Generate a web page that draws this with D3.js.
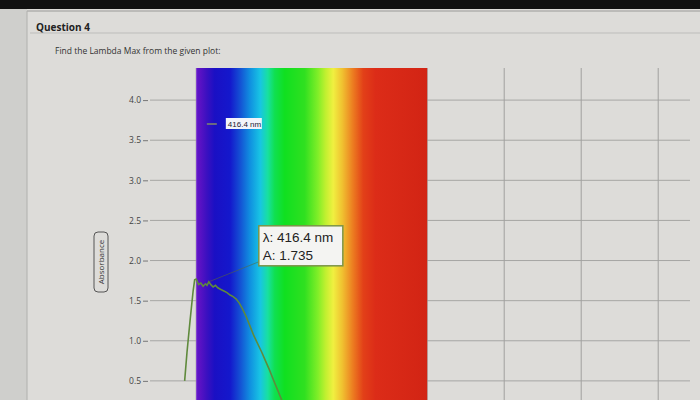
<!DOCTYPE html>
<html>
<head>
<meta charset="utf-8">
<script src="https://cdn.jsdelivr.net/npm/d3@7"></script>
<style>
  body { margin: 0; background: #dddcd9; }
  svg { display: block; }
</style>
</head>
<body>
<svg id="chart" width="700" height="400"></svg>
<script>
// absorbance spectrum
var wavelengths = [385, 388, 392, 396, 398, 400, 403, 406, 409, 412, 414, 416.4, 419, 422, 425, 428, 432, 436, 440, 444, 448, 452, 456, 460, 465, 470, 475, 480, 485, 490, 495, 500, 506, 512];
var absorbance  = [0.50, 0.85, 1.25, 1.62, 1.76, 1.77, 1.70, 1.72, 1.68, 1.71, 1.69, 1.735, 1.70, 1.67, 1.69, 1.66, 1.64, 1.62, 1.60, 1.57, 1.55, 1.52, 1.47, 1.40, 1.30, 1.18, 1.06, 0.96, 0.86, 0.75, 0.64, 0.52, 0.38, 0.24];
var yTicks = [0.5, 1.0, 1.5, 2.0, 2.5, 3.0, 3.5, 4.0];
var xGrid = [400, 500, 600, 700, 800, 900, 1000];
var peak = { wl: 416.4, a: 1.735 };

// visible spectrum colour stops (nm)
var spectrumNm  = [400, 402, 405, 414, 424, 444, 457, 470, 483, 493, 502, 515, 541, 558, 568, 578, 590, 604, 617, 633, 700];
var spectrumCol = ["#7a2ad8", "#5c14c6", "#5a12c4", "#3a10c0", "#1a10c4", "#1418cc", "#1450d4", "#1090e0", "#18c4e4", "#18e0a0", "#10e050", "#10e020", "#30e020", "#80ee28", "#c0f030", "#f0f040", "#f0c030", "#ec7a20", "#e24018", "#dc2c18", "#d22414"];

var svg = d3.select("#chart");

var x = d3.scaleLinear().domain([340, 1040]).range([150, 689]);
var y = d3.scaleLinear().domain([0, 4.4]).range([421, 68]);

// page frame
svg.append("rect").attr("width", 700).attr("height", 400).attr("fill", "#dddcd9");
svg.append("rect").attr("width", 700).attr("height", 9).attr("fill", "#111");
svg.append("rect").attr("y", 9).attr("width", 27).attr("height", 391).attr("fill", "#cfcfcc");
svg.append("line").attr("x1", 27).attr("x2", 700).attr("y1", 11).attr("y2", 11).attr("stroke", "#9a9a98");
svg.append("line").attr("x1", 27).attr("x2", 27).attr("y1", 11).attr("y2", 400).attr("stroke", "#b0b0ae");
svg.append("line").attr("x1", 30).attr("x2", 700).attr("y1", 33).attr("y2", 33).attr("stroke", "#bdbdbb");

svg.append("text")
    .attr("x", 36).attr("y", 31)
    .style("font-family", "Open Sans").style("font-weight", "bold").style("font-size", "10px")
    .attr("fill", "#222")
    .text("Question 4");
svg.append("text")
    .attr("x", 55).attr("y", 54)
    .style("font-family", "Open Sans").style("font-size", "8.5px")
    .attr("fill", "#333")
    .text("Find the Lambda Max from the given plot:");

// grid
svg.append("g")
  .selectAll("line")
  .data(yTicks)
  .enter()
  .append("line")
    .attr("x1", 150).attr("x2", 690)
    .attr("y1", d => y(d)).attr("y2", d => y(d))
    .attr("stroke", "#a6a6a4").attr("stroke-width", 1);

svg.append("g")
  .selectAll("line")
  .data(xGrid)
  .enter()
  .append("line")
    .attr("x1", d => x(d)).attr("x2", d => x(d))
    .attr("y1", 68).attr("y2", 400)
    .attr("stroke", "#a0a09e").attr("stroke-width", 1);

// y axis
var yAxis = d3.axisLeft(y).tickValues(yTicks).tickSize(5).tickPadding(2).tickFormat(d3.format(".1f"));
var gy = svg.append("g")
    .attr("transform", "translate(148,0)")
    .call(yAxis);
gy.select(".domain").remove();
gy.selectAll(".tick line").attr("stroke", "#777");
gy.selectAll(".tick text")
    .style("font-family", "Open Sans").style("font-size", "8.5px").attr("fill", "#444");

// y label in rounded box
var lab = svg.append("g").attr("transform", "translate(101,262) rotate(-90)");
lab.append("rect")
    .attr("x", -30).attr("y", -7).attr("width", 60).attr("height", 14).attr("rx", 4)
    .attr("fill", "none").attr("stroke", "#555").attr("stroke-width", 1);
lab.append("text")
    .attr("text-anchor", "middle").attr("dy", "0.35em")
    .style("font-family", "Open Sans").style("font-size", "8px").attr("fill", "#333")
    .text("Absorbance");

// spectrum band
var grad = svg.append("defs").append("linearGradient")
    .attr("id", "spectrum")
    .attr("gradientUnits", "userSpaceOnUse")
    .attr("x1", x(400)).attr("x2", x(700)).attr("y1", 0).attr("y2", 0);
grad.selectAll("stop")
  .data(spectrumNm)
  .enter()
  .append("stop")
    .attr("offset", d => (d - 400) / 300)
    .attr("stop-color", (d, i) => spectrumCol[i]);

svg.append("rect")
    .attr("x", x(400)).attr("y", 68)
    .attr("width", x(700) - x(400)).attr("height", y(0) - 68)
    .attr("fill", "url(#spectrum)");

// absorbance line
var pts = wavelengths.map((w, i) => [w, absorbance[i]]);
var line = d3.line().x(d => x(d[0])).y(d => y(d[1]));
svg.append("path")
    .datum(pts)
    .attr("d", line)
    .attr("fill", "none")
    .attr("stroke", "#5f8a3c")
    .attr("stroke-width", 1.6);

// top marker label
var mx = x(peak.wl);
svg.append("line")
    .attr("x1", mx - 2).attr("x2", mx + 8).attr("y1", 124).attr("y2", 124)
    .attr("stroke", "#6a6a80").attr("stroke-width", 2);
svg.append("rect")
    .attr("x", mx + 17).attr("y", 118).attr("width", 36).attr("height", 11)
    .attr("fill", "#f2f4fa");
svg.append("text")
    .attr("x", mx + 19).attr("y", 127)
    .style("font-family", "Liberation Sans").style("font-size", "8px").attr("fill", "#223")
    .text(peak.wl + " nm");

// tooltip
var px = x(peak.wl), py = y(peak.a);
var tx = px + 50, ty = py - 56;
svg.append("line")
    .attr("x1", px).attr("y1", py).attr("x2", tx).attr("y2", ty + 36)
    .attr("stroke", "#5a6a3a").attr("stroke-width", 0.8).attr("opacity", 0.7);
svg.append("rect")
    .attr("x", tx).attr("y", ty).attr("width", 84).attr("height", 40)
    .attr("fill", "#f4f4f2").attr("stroke", "#7c9448").attr("stroke-width", 1.5);
svg.append("text")
    .attr("x", tx + 4).attr("y", ty + 16)
    .style("font-family", "Liberation Sans").style("font-size", "13.5px").attr("fill", "#222")
    .text("λ: " + peak.wl + " nm");
svg.append("text")
    .attr("x", tx + 4).attr("y", ty + 34)
    .style("font-family", "Liberation Sans").style("font-size", "13.5px").attr("fill", "#222")
    .text("A: " + peak.a);
</script>
</body>
</html>
